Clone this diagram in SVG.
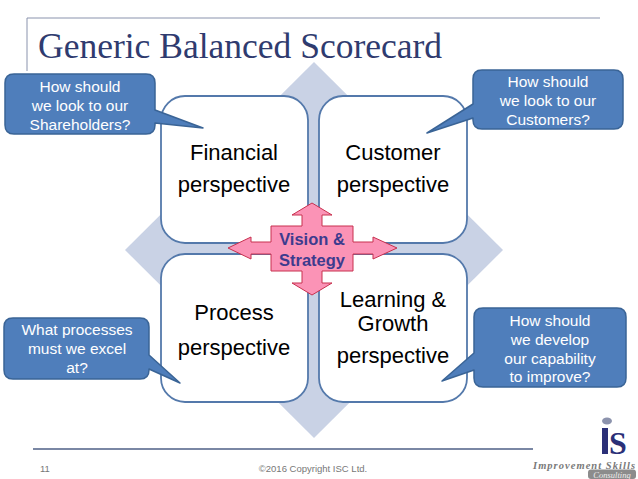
<svg xmlns="http://www.w3.org/2000/svg" width="638" height="479" viewBox="0 0 638 479">
<style>
.box{fill:#ffffff;stroke:#5479ab;stroke-width:1.8}
.box-t{font-family:"Liberation Sans",Arial,sans-serif;font-size:22px;fill:#000;text-anchor:middle}
.call{fill:#4f7ebb;stroke:#3a6496;stroke-width:1.5;stroke-linejoin:round}
.call-t{font-family:"Liberation Sans",Arial,sans-serif;font-size:15.5px;fill:#ffffff;text-anchor:middle}
.vs-t{font-family:"Liberation Sans",Arial,sans-serif;font-size:16.5px;font-weight:bold;fill:#3d3b8e;text-anchor:middle}
.foot{font-family:"Liberation Sans",Arial,sans-serif;font-size:9.5px;fill:#777}
</style>
<rect width="638" height="479" fill="#ffffff"/>
<!-- frame lines -->
<path d="M27,71 V18 H600" fill="none" stroke="#8a93ad" stroke-width="1"/>
<text x="38" y="58" font-family="Liberation Serif,'Times New Roman',serif" font-size="35.5" fill="#2f3b6f">Generic Balanced Scorecard</text>
<!-- background diamond -->
<polygon id="diamond" points="314,62 503,250 314,438 125,250" fill="#c9d2e5"/>
<!-- perspective boxes -->
<g id="financial">
<rect class="box" x="161" y="96" width="147" height="147" rx="24"/>
<text class="box-t" x="234" y="160">Financial</text>
<text class="box-t" x="234" y="192">perspective</text>
</g>
<g id="customer">
<rect class="box" x="319" y="96" width="148" height="147" rx="24"/>
<text class="box-t" x="393" y="160">Customer</text>
<text class="box-t" x="393" y="192">perspective</text>
</g>
<g id="process">
<rect class="box" x="161" y="254" width="147" height="148" rx="24"/>
<text class="box-t" x="234" y="320">Process</text>
<text class="box-t" x="234" y="355">perspective</text>
</g>
<g id="learning">
<rect class="box" x="319" y="254" width="148" height="148" rx="24"/>
<text class="box-t" x="393" y="307">Learning &amp;</text>
<text class="box-t" x="393" y="331">Growth</text>
<text class="box-t" x="393" y="363">perspective</text>
</g>
<!-- vision & strategy -->
<g id="vision">
<polygon points="312,203 332,215 322,215 322,226 353,226 353,242 373,242 373,237 397,248 373,259 373,254 353,254 353,271 322,271 322,283 332,283 312,295 292,283 302,283 302,271 271,271 271,254 251,254 251,259 228,248 251,237 251,242 271,242 271,226 302,226 302,215 292,215" fill="#fb93b6" stroke="#c8304e" stroke-width="1"/>
<text class="vs-t" x="312" y="245">Vision &amp;</text>
<text class="vs-t" x="312" y="266">Strategy</text>
</g>
<!-- callouts -->
<g id="callout-shareholders">
<path class="call" d="M14,74 H146 Q155,74 155,83 V110 L203,128 L155,123 V125 Q155,134 146,134 H14 Q5,134 5,125 V83 Q5,74 14,74 Z"/>
<text class="call-t" x="80" y="92">How should</text>
<text class="call-t" x="80" y="111">we look to our</text>
<text class="call-t" x="80" y="130">Shareholders?</text>
</g>
<g id="callout-customers">
<path class="call" d="M482,70 H614 Q623,70 623,79 V120 Q623,129 614,129 H482 Q473,129 473,120 V118 L427,133 L473,104 V79 Q473,70 482,70 Z"/>
<text class="call-t" x="548" y="87">How should</text>
<text class="call-t" x="548" y="106">we look to our</text>
<text class="call-t" x="548" y="125">Customers?</text>
</g>
<g id="callout-processes">
<path class="call" d="M13,318 H140 Q149,318 149,327 V355 L180,383 L149,369 V370 Q149,379 140,379 H13 Q4,379 4,370 V327 Q4,318 13,318 Z"/>
<text class="call-t" x="77" y="335">What processes</text>
<text class="call-t" x="77" y="354">must we excel</text>
<text class="call-t" x="77" y="373">at?</text>
</g>
<g id="callout-capability">
<path class="call" d="M483,308 H617 Q626,308 626,317 V378 Q626,387 617,387 H483 Q474,387 474,378 V370 L442,381 L474,353 V317 Q474,308 483,308 Z"/>
<text class="call-t" x="550" y="326">How should</text>
<text class="call-t" x="550" y="345">we develop</text>
<text class="call-t" x="550" y="364">our capability</text>
<text class="call-t" x="550" y="382">to improve?</text>
</g>
<!-- footer -->
<line x1="33" y1="449" x2="533" y2="449" stroke="#4e5f86" stroke-width="1.5"/>
<text class="foot" x="40" y="472">11</text>
<text class="foot" x="313" y="472" text-anchor="middle">©2016 Copyright ISC Ltd.</text>
<!-- logo -->
<g id="logo">
<ellipse cx="607" cy="421" rx="5" ry="3.5" fill="#8c93ad"/>
<rect x="602" y="428" width="6" height="26" fill="#2b3078"/>
<text x="609" y="454" font-family="Liberation Serif,'Times New Roman',serif" font-size="32" font-weight="bold" fill="#2b3078">S</text>
<text x="533" y="468.5" textLength="102" font-family="Liberation Serif,'Times New Roman',serif" font-size="10.5" font-style="italic" font-weight="bold" fill="#7a7a7a">Improvement Skills</text>
<rect x="588" y="469.5" width="48" height="9.5" rx="3" fill="#8c8c8c"/>
<text x="612" y="477.5" text-anchor="middle" font-family="Liberation Serif,'Times New Roman',serif" font-size="8.5" font-style="italic" fill="#eeeeee">Consulting</text>
</g>
</svg>
